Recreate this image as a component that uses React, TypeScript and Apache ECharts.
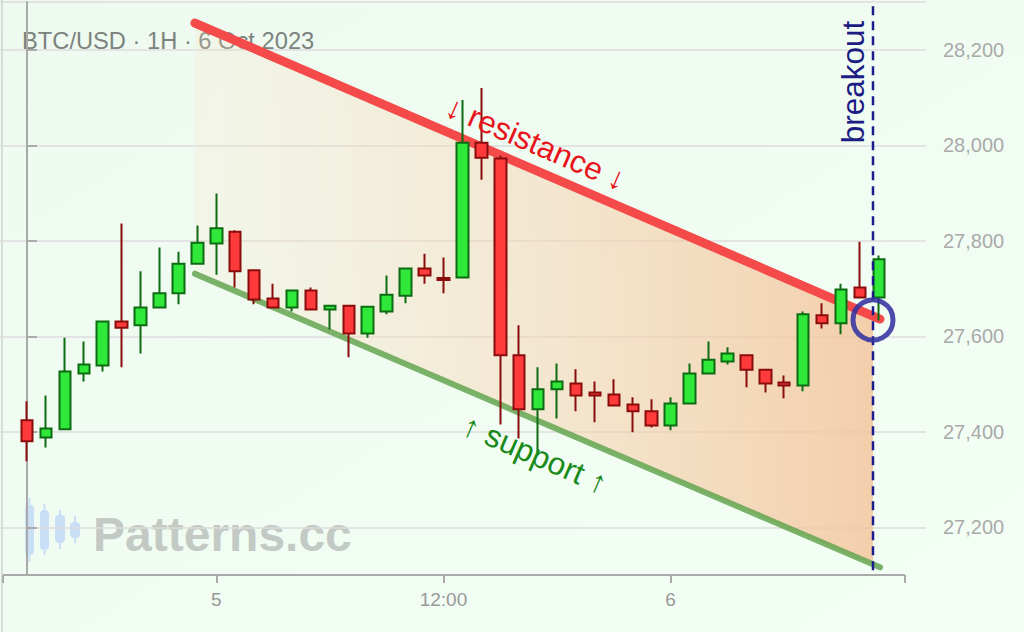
import React, { useEffect, useRef } from "react";
import * as echarts from "echarts";

// Hourly candles, 4 Oct 2023 14:00 → 6 Oct 2023 11:00 (index = hour slot)
const times = [
  "10-04 14:00", "10-04 15:00", "10-04 16:00", "10-04 17:00", "10-04 18:00", "10-04 19:00",
  "10-04 20:00", "10-04 21:00", "10-04 22:00", "10-04 23:00", "10-05 00:00", "10-05 01:00",
  "10-05 02:00", "10-05 03:00", "10-05 04:00", "10-05 05:00", "10-05 06:00", "10-05 07:00",
  "10-05 08:00", "10-05 09:00", "10-05 10:00", "10-05 11:00", "10-05 12:00", "10-05 13:00",
  "10-05 14:00", "10-05 15:00", "10-05 16:00", "10-05 17:00", "10-05 18:00", "10-05 19:00",
  "10-05 20:00", "10-05 21:00", "10-05 22:00", "10-05 23:00", "10-06 00:00", "10-06 01:00",
  "10-06 02:00", "10-06 03:00", "10-06 04:00", "10-06 05:00", "10-06 06:00", "10-06 07:00",
  "10-06 08:00", "10-06 09:00", "10-06 10:00", "10-06 11:00",
];
const opens = [
  27424, 27388, 27405, 27522, 27539, 27631, 27623, 27660, 27690, 27752, 27794, 27819,
  27738, 27679, 27660, 27696, 27656, 27664, 27606, 27652, 27685, 27742, 27722, 27723,
  28005, 27972, 27560, 27447, 27489, 27501, 27482, 27478, 27457, 27443, 27413, 27459,
  27522, 27547, 27560, 27530, 27503, 27497, 27644, 27627, 27702, 27681,
];
const closes = [
  27380, 27407, 27526, 27541, 27631, 27618, 27660, 27690, 27752, 27796, 27826, 27736,
  27677, 27660, 27696, 27656, 27664, 27606, 27662, 27687, 27742, 27727, 27718, 28005,
  27974, 27560, 27447, 27489, 27505, 27476, 27476, 27455, 27443, 27413, 27459, 27522,
  27551, 27564, 27530, 27501, 27497, 27646, 27627, 27698, 27681, 27761,
];
const lows = [
  27338, 27367, 27403, 27505, 27526, 27535, 27564, 27658, 27667, 27750, 27729, 27702,
  27667, 27658, 27652, 27656, 27614, 27556, 27597, 27646, 27669, 27710, 27690, 27721,
  27928, 27415, 27386, 27357, 27428, 27443, 27420, 27455, 27399, 27409, 27403, 27457,
  27520, 27541, 27493, 27482, 27470, 27485, 27616, 27604, 27679, 27633,
];
const highs = [
  27464, 27476, 27597, 27589, 27633, 27836, 27736, 27786, 27777, 27832, 27899, 27822,
  27740, 27710, 27698, 27702, 27666, 27666, 27664, 27727, 27744, 27773, 27765, 28095,
  28120, 27978, 27623, 27535, 27543, 27531, 27505, 27510, 27472, 27468, 27472, 27543,
  27589, 27577, 27562, 27532, 27518, 27652, 27669, 27710, 27798, 27769,
];

// x-axis labels (hour slot → text)
const xLabelSlots = [10, 22, 34];
const xLabelTexts = ["5", "12:00", "6"];

// trend lines [slot, price]
const resistanceLine = [[8.87, 28256], [45.06, 27636]];
const supportLine = [[8.87, 27731], [45.06, 27116]];
const channelFill = [[8.87, 28256], [44.69, 27642], [44.69, 27122], [8.87, 27731]];
const breakoutLine = [[44.69, 27110], [44.69, 28305]];
const breakoutPoint = [[44.69, 27634]];

const X_MIN = -1.426;
const X_MAX = 47.49;
const Y_MIN = 27100;
const Y_MAX = 28300;

const FONT = '"Liberation Sans", Arial, Helvetica, sans-serif';

export default function App() {
  const ref = useRef<HTMLDivElement>(null);

  useEffect(() => {
    if (!ref.current) return;
    const chart = echarts.init(ref.current, null, { renderer: "svg" });

    const candles = times.map((_, i) => [i, opens[i], closes[i], lows[i], highs[i]]);
    const labelMap: Record<number, string> = {};
    xLabelSlots.forEach((s, i) => (labelMap[s] = xLabelTexts[i]));

    const fillGradient = new echarts.graphic.LinearGradient(0, 0, 1, 0, [
      { offset: 0, color: "rgba(250,226,200,0.22)" },
      { offset: 1, color: "rgba(243,196,155,0.82)" },
    ]);

    const iconColor = "#c8dff6";
    const iconCandles = [
      { x: 25, w: 9, wt: 498, wb: 562, bt: 505, bb: 555 },
      { x: 40, w: 9, wt: 504, wb: 555, bt: 510, bb: 550 },
      { x: 55, w: 10, wt: 510, wb: 549, bt: 515, bb: 543 },
      { x: 70, w: 10, wt: 516, wb: 543, bt: 522, bb: 538 },
    ];
    const iconEls: any[] = [];
    iconCandles.forEach((c) => {
      iconEls.push({
        type: "line",
        z: -1,
        shape: { x1: c.x + c.w / 2, y1: c.wt, x2: c.x + c.w / 2, y2: c.wb },
        style: { stroke: iconColor, lineWidth: 2 },
      });
      iconEls.push({
        type: "rect",
        z: -1,
        shape: { x: c.x, y: c.bt, width: c.w, height: c.bb - c.bt, r: 4 },
        style: { fill: iconColor },
      });
    });

    chart.setOption({
      animation: false,
      backgroundColor: new echarts.graphic.LinearGradient(0, 0, 1, 1, [
        { offset: 0, color: "#eefaf0" },
        { offset: 1, color: "#f3fff5" },
      ]),
      textStyle: { fontFamily: FONT },
      grid: { left: 0, right: 98, top: 2, bottom: 57, containLabel: false },
      xAxis: {
        type: "value",
        min: X_MIN,
        max: X_MAX,
        axisLine: { show: false },
        axisTick: {
          show: true,
          customValues: [-1.268, ...xLabelSlots, 46.38],
          length: 8,
          lineStyle: { color: "#aaaaaa", width: 2 },
        },
        axisLabel: {
          customValues: xLabelSlots,
          formatter: (v: number) => labelMap[Math.round(v)] ?? "",
          color: "#999999",
          fontSize: 19,
          margin: 15,
          fontFamily: FONT,
        },
        splitLine: { show: false },
      },
      yAxis: {
        type: "value",
        position: "right",
        min: Y_MIN,
        max: Y_MAX,
        splitNumber: 6,
        axisLine: { show: true, lineStyle: { color: "#aaaaaa", width: 2 } },
        axisTick: { show: true, length: 10, lineStyle: { color: "#aaaaaa", width: 2 } },
        axisLabel: {
          showMinLabel: false,
          showMaxLabel: false,
          color: "#aaaaaa",
          fontSize: 20,
          margin: 17,
          fontFamily: FONT,
          formatter: (v: number) => v.toLocaleString("en-US"),
        },
        splitLine: {
          show: true,
          showMinLine: false,
          lineStyle: { color: "#dcdcdc", width: 1.5 },
        },
      },
      graphic: [
        {
          type: "line",
          z: -1,
          shape: { x1: 2, y1: 0, x2: 2, y2: 632 },
          style: { stroke: "#cfd4cf", lineWidth: 1.5 },
        },
        {
          type: "line",
          z: 1,
          shape: { x1: 3, y1: 575, x2: 905, y2: 575 },
          style: { stroke: "#aaaaaa", lineWidth: 2 },
        },
        {
          type: "text",
          z: -1,
          x: 22,
          y: 41,
          style: {
            text: "BTC/USD · 1H · 6 Oct 2023",
            fill: "#7b837d",
            fontSize: 23.7,
            fontFamily: FONT,
            align: "left",
            verticalAlign: "middle",
          },
        },
        { type: "group", children: iconEls },
        {
          type: "text",
          z: -1,
          x: 93,
          y: 534,
          style: {
            text: "Patterns.cc",
            fill: "rgba(175,178,175,0.7)",
            fontSize: 48,
            fontWeight: "bold",
            fontFamily: FONT,
            align: "left",
            verticalAlign: "middle",
          },
        },
        {
          type: "text",
          z: 100,
          x: 536,
          y: 143,
          rotation: -0.4085,
          style: {
            text: "↓ resistance ↓",
            fill: "#e8141c",
            fontSize: 31.5,
            fontFamily: FONT,
            align: "center",
            verticalAlign: "middle",
          },
        },
        {
          type: "text",
          z: 100,
          x: 535,
          y: 454,
          rotation: -0.4085,
          style: {
            text: "↑ support ↑",
            fill: "#198a19",
            fontSize: 31.5,
            fontFamily: FONT,
            align: "center",
            verticalAlign: "middle",
          },
        },
        {
          type: "text",
          z: 100,
          x: 853,
          y: 82,
          rotation: Math.PI / 2,
          style: {
            text: "breakout",
            fill: "#1c1c82",
            fontSize: 31.5,
            fontFamily: FONT,
            align: "center",
            verticalAlign: "middle",
          },
        },
      ],
      series: [
        {
          type: "custom",
          z: 1,
          data: channelFill,
          renderItem: (params: any, api: any) => {
            if (params.dataIndex !== 0) return { type: "group", children: [] };
            const pts = channelFill.map((p) => api.coord(p));
            return {
              type: "polygon",
              shape: { points: pts },
              style: { fill: fillGradient },
            };
          },
          silent: true,
        },
        {
          type: "line",
          z: 2,
          data: resistanceLine,
          symbol: "none",
          lineStyle: { color: "#f54a4a", width: 9, cap: "round", opacity: 1 },
          silent: true,
        },
        {
          type: "line",
          z: 2,
          data: supportLine,
          symbol: "none",
          lineStyle: { color: "rgba(100,165,80,0.85)", width: 6, cap: "round" },
          silent: true,
        },
        {
          type: "candlestick",
          z: 3,
          data: candles,
          encode: { x: 0, y: [1, 2, 3, 4] },
          barWidth: 12,
          itemStyle: {
            color: "#2fe83a",
            color0: "#ff3a3a",
            borderColor: "#0d6b12",
            borderColor0: "#8a0d0d",
            borderWidth: 2,
          },
        },
        {
          type: "line",
          z: 4,
          data: breakoutLine,
          symbol: "none",
          lineStyle: { color: "#1c1c8c", width: 2.5, type: [9, 6] },
          silent: true,
        },
        {
          type: "scatter",
          z: 5,
          data: breakoutPoint,
          symbol: "circle",
          symbolSize: 40,
          itemStyle: {
            color: "rgba(0,0,0,0)",
            borderColor: "rgba(50,50,160,0.88)",
            borderWidth: 5,
            opacity: 1,
          },
          silent: true,
        },
      ],
    });

    return () => chart.dispose();
  }, []);

  return (
    <div
      ref={ref}
      style={{ position: "absolute", left: 0, top: 0, width: 1024, height: 632 }}
    />
  );
}
